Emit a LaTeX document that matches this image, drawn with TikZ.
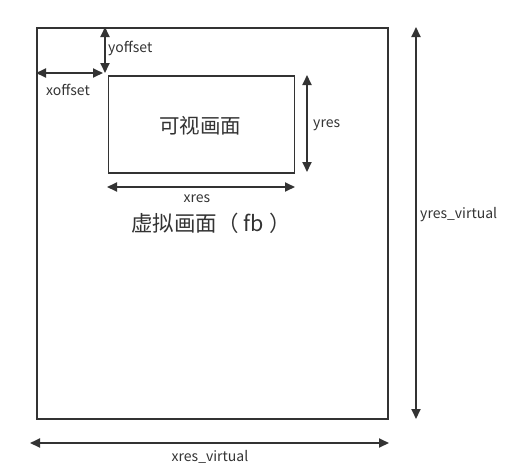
\documentclass[tikz,border=0pt]{standalone}
\usepackage{fontspec}
\setmainfont{Noto Sans CJK SC}
\usetikzlibrary{arrows.meta}
\definecolor{ink}{HTML}{333333}
\tikzset{
  frame/.style={draw=ink, line width=1.6pt},
  dim/.style={draw=ink, line width=1.8pt, {Triangle[length=10pt,width=9pt]}-{Triangle[length=10pt,width=9pt]}},
  lbl/.style={text=ink, font=\fontsize{14}{16}\selectfont, inner sep=0pt},
  big/.style={text=ink, font=\fontsize{20.5}{24}\selectfont, inner sep=0pt}
}
\begin{document}
\begin{tikzpicture}[x=1pt,y=-1pt]
\useasboundingbox (0,0) rectangle (518,471);
\fill[white] (0,0) rectangle (518,471);
% outer and inner rectangles
\node[frame, minimum width=351pt, minimum height=391pt, anchor=north west, inner sep=0pt] (outer) at (36,27) {};
\node[frame, minimum width=186pt, minimum height=97pt, anchor=north west, inner sep=0pt] (inner) at (107.5,75) {};
\node[big] (vis) at (200,126) {可视画面};
\node[big, font=\fontsize{21.5}{24}\selectfont] (fb) at (211,223) {虚拟画面（\hspace{5pt}fb\hspace{5pt}）};
% coordinates for dimension arrows
\coordinate (yo1) at (105,27);
\coordinate (yo2) at (105,73);
\coordinate (xo1) at (36,73);
\coordinate (xo2) at (103,73);
\coordinate (yr1) at (307,75);
\coordinate (yr2) at (307,172);
\coordinate (xr1) at (107,187);
\coordinate (xr2) at (295,187);
\coordinate (yv1) at (416,27);
\coordinate (yv2) at (416,419);
\coordinate (xv1) at (30,443);
\coordinate (xv2) at (389,443);
\draw[dim] (yo1) -- (yo2);
\draw[dim] (xo1) -- (xo2);
\draw[dim] (yr1) -- (yr2);
\draw[dim] (xr1) -- (xr2);
\draw[dim] (yv1) -- (yv2);
\draw[dim] (xv1) -- (xv2);
% labels
\node[lbl, anchor=west] (lyo) at (108,48) {yoffset};
\node[lbl] (lxo) at (68,90) {xoffset};
\node[lbl, anchor=west] (lyr) at (313,125) {yres};
\node[lbl] (lxr) at (197,199) {xres};
\node[lbl, anchor=west] (lyv) at (420,215) {yres\_virtual};
\node[lbl] (lxv) at (210,457) {xres\_virtual};
\end{tikzpicture}
\end{document}
